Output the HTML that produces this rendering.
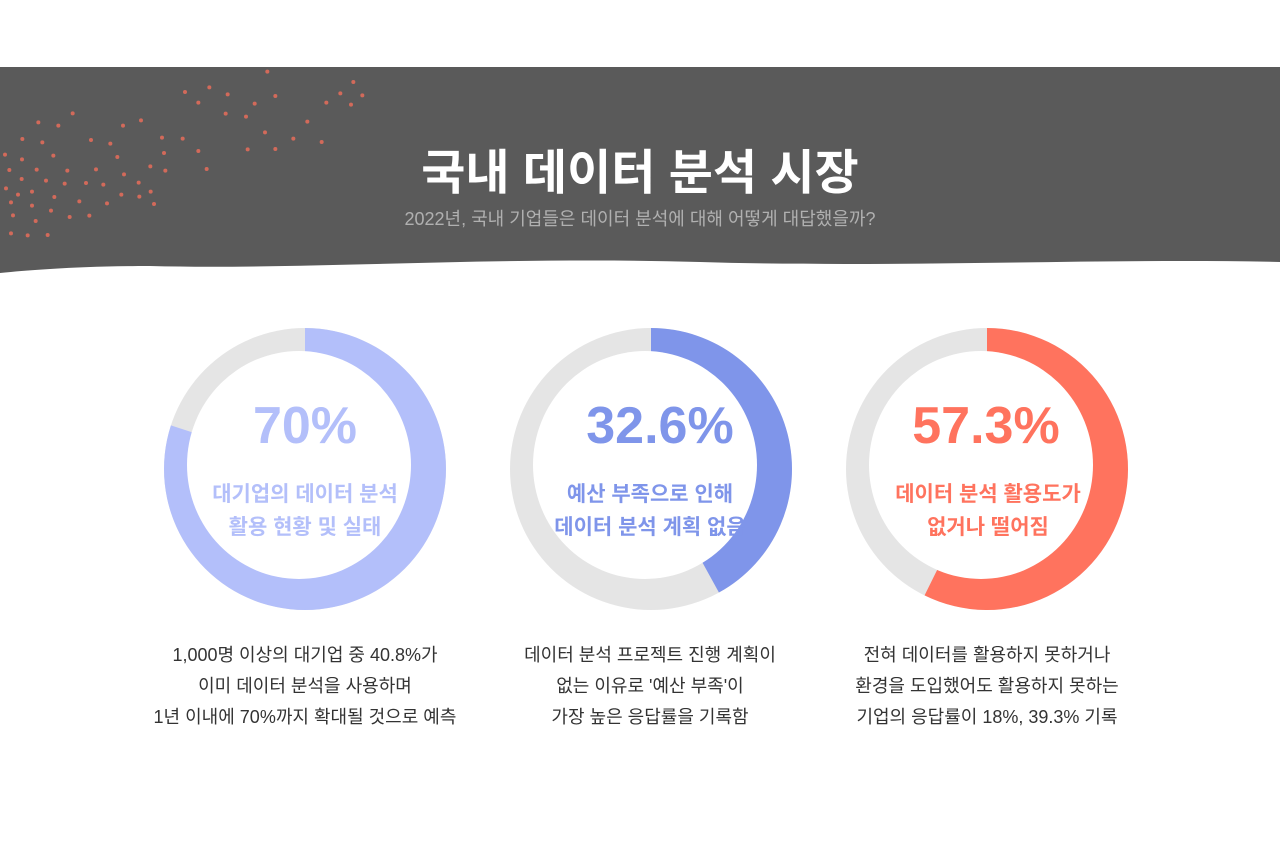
<!DOCTYPE html>
<html><head><meta charset="utf-8">
<style>
body{margin:0;width:1280px;height:853px;background:#fff;overflow:hidden;font-family:"Liberation Sans","Noto Sans CJK KR",sans-serif;position:relative}
.t{position:absolute;text-align:center;white-space:nowrap}
</style></head><body>
<svg width="1280" height="853" style="position:absolute;left:0;top:0">
<path d="M0 67 H1280 V262 C1100 258 900 268 700 262 C500 256 300 270 150 266 C80 266 30 270 0 273 Z" fill="#5a5a5a"/>
<g id="dots" fill="#d26a5a"></g>
<g id="donuts"></g>
</svg>
<div class="t" style="left:0;width:1280px;top:133px;font-size:48px;font-weight:bold;color:#fff">국내 데이터 분석 시장</div>
<div class="t" style="left:0;width:1280px;top:205px;font-size:18px;color:#b0b0b0">2022년, 국내 기업들은 데이터 분석에 대해 어떻게 대답했을까?</div>

<div class="t" style="left:155px;width:300px;top:396px;font-size:52px;font-weight:bold;color:#b3bffa">70%</div>
<div class="t" style="left:155px;width:300px;top:478px;font-size:21px;line-height:33px;font-weight:bold;color:#b3bffa">대기업의 데이터 분석<br>활용 현황 및 실태</div>
<div class="t" style="left:510px;width:300px;top:396px;font-size:52px;font-weight:bold;color:#7f95ea">32.6%</div>
<div class="t" style="left:500px;width:300px;top:478px;font-size:21px;line-height:33px;font-weight:bold;color:#7f95ea">예산 부족으로 인해<br>데이터 분석 계획 없음</div>
<div class="t" style="left:836px;width:300px;top:396px;font-size:52px;font-weight:bold;color:#ff735e">57.3%</div>
<div class="t" style="left:838px;width:300px;top:478px;font-size:21px;line-height:33px;font-weight:bold;color:#ff735e">데이터 분석 활용도가<br>없거나 떨어짐</div>

<div class="t" style="left:105px;width:400px;top:640px;font-size:18px;line-height:31px;color:#333">1,000명 이상의 대기업 중 40.8%가<br>이미 데이터 분석을 사용하며<br>1년 이내에 70%까지 확대될 것으로 예측</div>
<div class="t" style="left:450px;width:400px;top:640px;font-size:18px;line-height:31px;color:#333">데이터 분석 프로젝트 진행 계획이<br>없는 이유로 '예산 부족'이<br>가장 높은 응답률을 기록함</div>
<div class="t" style="left:787px;width:400px;top:640px;font-size:18px;line-height:31px;color:#333">전혀 데이터를 활용하지 못하거나<br>환경을 도입했어도 활용하지 못하는<br>기업의 응답률이 18%, 39.3% 기록</div>
<script>
const categories=["대기업 데이터 분석","예산 부족","활용도 낮음"];
const arcPercents=[80,42,57.3];
const colors=["#b3bffa","#7f95ea","#ff735e"];
const ns="http://www.w3.org/2000/svg";
const cx=[305,651,987], cy=469, R=141;
const g=document.getElementById('donuts');
function pt(p,r,c){const a=p/100*2*Math.PI;return [c+r*Math.sin(a),cy-r*Math.cos(a)];}
arcPercents.forEach((v,i)=>{
  const c=cx[i];
  const bg=document.createElementNS(ns,'circle');
  
  
  bg.setAttribute('cx',c);bg.setAttribute('cy',cy);bg.setAttribute('r',R);bg.setAttribute('fill','#e5e5e5');g.appendChild(bg);
  const e=pt(v,R,c);
  const p=document.createElementNS(ns,'path');
  
  
  p.setAttribute('d',`M${c} ${cy} L${c} ${cy-R} A${R} ${R} 0 ${v>50?1:0} 1 ${e[0]} ${e[1]} Z`);
  p.setAttribute('fill',colors[i]);g.appendChild(p);
  const w=document.createElementNS(ns,'ellipse');
  
  
  w.setAttribute('cx',c-6);w.setAttribute('cy',cy-4);w.setAttribute('rx',112);w.setAttribute('ry',114);w.setAttribute('fill','#fff');g.appendChild(w);
});
const dots=[[802,35],[628,82],[555,96],[683,103],[595,128],[764,131],[826,108],[1060,66],[1021,100],[1087,106],[979,128],[1053,134],[677,161],[738,170],[922,185],[795,217],[880,236],[965,246],[743,268],[826,267],[218,160],[115,187],[175,197],[369,197],[423,181],[67,237],[127,247],[273,240],[331,251],[486,233],[548,236],[15,284],[66,298],[160,287],[352,291],[492,279],[595,273],[28,330],[110,329],[202,332],[288,328],[451,319],[496,332],[620,327],[65,357],[138,362],[194,371],[258,369],[310,374],[372,343],[416,368],[18,385],[54,404],[96,395],[163,411],[238,424],[364,404],[418,410],[452,395],[33,427],[96,437],[153,452],[321,430],[462,432],[39,466],[107,483],[209,471],[268,467],[33,520],[83,526],[143,525]];
const dg=document.getElementById('dots');
dots.forEach(d=>{const c=document.createElementNS(ns,'circle');


c.setAttribute('cx',d[0]/3);c.setAttribute('cy',60+d[1]/3);c.setAttribute('r',2);dg.appendChild(c);});
</script>
</body></html>
